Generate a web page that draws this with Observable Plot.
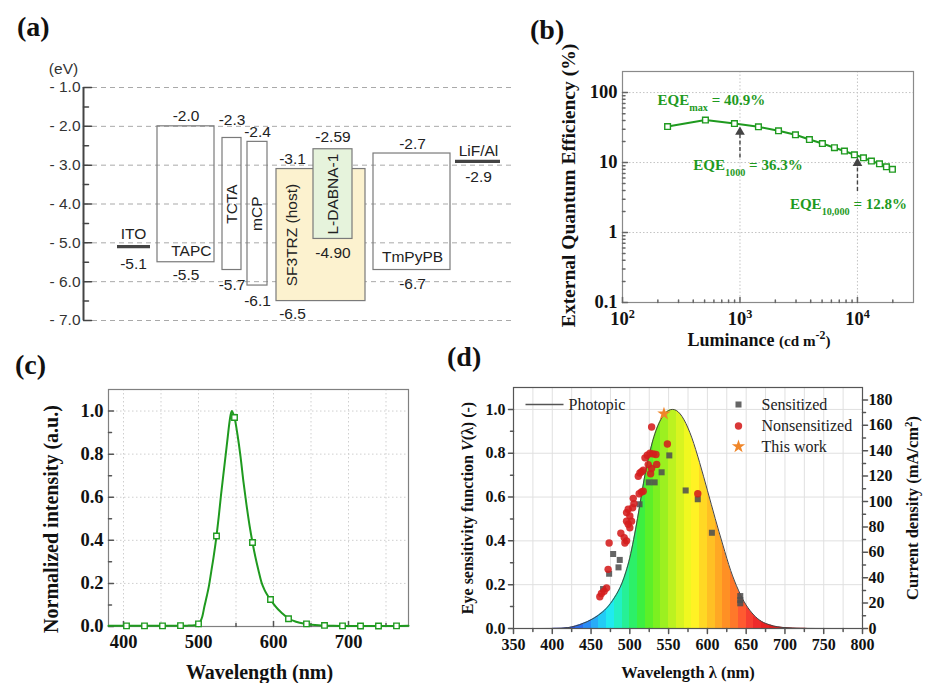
<!DOCTYPE html>
<html><head><meta charset="utf-8">
<script src="https://cdn.jsdelivr.net/npm/d3@7"></script>
<script src="https://cdn.jsdelivr.net/npm/@observablehq/plot@0.6"></script>
<style>
html,body{margin:0;padding:0;background:#fff;}
#fig{position:relative;width:940px;height:683px;overflow:hidden;background:#fff;}
.panel{position:absolute;}
.panel svg{display:block;max-width:none;overflow:visible;background:transparent;}
.plabel{position:absolute;font-family:"Liberation Serif","Times New Roman",serif;font-weight:bold;font-size:28px;line-height:28px;color:#111;}
</style></head>
<body><div id="fig"></div>
<script>
// ================= DATA =================
// (a) energy-level diagram
const layerNames   = ["ITO","TAPC","TCTA","mCP","SF3TRZ (host)","L-DABNA-1","TmPyPB","LiF/Al"];
const layerKind    = ["electrode","box","box","box","box","box","box","electrode"];
const lumoLevels   = [-5.1,-2.0,-2.3,-2.4,-3.1,-2.59,-2.7,-2.9];
const homoLevels   = [-5.1,-5.5,-5.7,-6.1,-6.5,-4.90,-5.7,-2.9];
const upperLabels  = ["ITO","-2.0","-2.3","-2.4","-3.1","-2.59","-2.7","LiF/Al"];
const lowerLabels  = ["-5.1","-5.5","-5.7","-6.1","-6.5","-4.90","-6.7","-2.9"];
const energyTicks  = [-1,-2,-3,-4,-5,-6,-7];
const energyMinor  = [-1.5,-2.5,-3.5,-4.5,-5.5,-6.5];

// (b) EQE vs luminance
const luminance = [242,508,897,1436,2128,2967,3900,5030,6370,7750,9420,11250,13150,15400,17650,19850];
const eqeValues = [32.7,40.5,36.1,32.4,28.4,24.9,21.3,18.7,16.3,14.6,12.9,11.7,10.5,9.6,8.7,8.0];
const eqeNoteText = ["EQE_{max} = 40.9%","EQE_{1000} = 36.3%","EQE_{10,000} = 12.8%"];
const eqeNoteLum  = [508,1000,10000];
const eqeNoteVal  = [40.9,36.3,12.8];
const arrowLum  = [1000,10000];
const arrowFrom = [11.8,3.92];
const arrowTo   = [30.1,10.8];
const lumTicks = [100,1000,10000];
const eqeTicks = [0.1,1,10,100];

// (c) EL spectrum
const specNm = [380,395,410,425,440,455,470,485,495,500,502,505,508,511,514,517,520,524,527,530,533,536,539,541,543,544.5,546,548,552,556,560,564,568,572,576,580,584,588,592,596,600,606,612,620,630,644,660,680,700,720,740,760,780];
const specI  = [0.004,0.003,0.003,0.003,0.003,0.003,0.003,0.004,0.006,0.012,0.02,0.045,0.095,0.14,0.19,0.255,0.32,0.42,0.51,0.61,0.70,0.79,0.88,0.94,0.985,1.0,0.99,0.97,0.89,0.79,0.67,0.565,0.47,0.39,0.32,0.26,0.205,0.17,0.145,0.125,0.105,0.08,0.06,0.037,0.022,0.012,0.006,0.003,0.002,0.002,0.002,0.002,0.003];
const markNm = [404,428,452,476,500,524,548,572,596,620,644,668,692,716,740,764];
const markI  = [0.003,0.003,0.003,0.004,0.012,0.42,0.97,0.39,0.125,0.036,0.012,0.005,0.003,0.002,0.002,0.003];

// (d) photopic curve + literature points
const photopicNm = [380,385,390,395,400,405,410,415,420,425,430,435,440,445,450,455,460,465,470,475,480,485,490,495,500,505,510,515,520,525,530,535,540,545,550,555,560,565,570,575,580,585,590,595,600,605,610,615,620,625,630,635,640,645,650,655,660,665,670,675,680,685,690,695,700,710,720,730,740,750,760,770,780];
const photopicV  = [0.00004,0.00006,0.00012,0.0002,0.0004,0.0006,0.0012,0.0022,0.004,0.0073,0.0116,0.0168,0.024,0.031,0.04,0.05,0.062,0.076,0.093,0.114,0.140,0.170,0.208,0.259,0.323,0.407,0.503,0.608,0.710,0.793,0.862,0.915,0.954,0.980,0.995,1.0,0.995,0.979,0.952,0.915,0.870,0.816,0.757,0.695,0.631,0.567,0.503,0.441,0.381,0.321,0.265,0.217,0.175,0.138,0.107,0.082,0.061,0.0446,0.032,0.0232,0.017,0.0119,0.0082,0.0057,0.0041,0.0021,0.00105,0.00052,0.00025,0.00012,0.00006,0.00003,0.000015];
const sensNm = [465.5,473.3,478.5,485.4,487.0,512.5,524.5,532.0,541.0,550.9,572.0,587.6,605.8,642.4,642.4,642.4];
const sensV  = [0.180,0.250,0.340,0.279,0.313,0.567,0.667,0.667,0.713,0.790,0.630,0.590,0.437,0.148,0.130,0.115];
const nonNm = [461.3,463.4,466.8,470.0,472.0,473.3,488.4,492.7,495.8,493.6,497.9,500.0,502.2,495.8,500.0,495.8,497.9,503.6,505.3,504.4,512.0,515.0,517.3,510.9,513.0,515.2,517.3,519.5,522.5,526.0,530.3,533.7,523.7,526.8,534.6,528.0,528.1,548.4,587.6];
const nonV  = [0.145,0.160,0.170,0.185,0.270,0.390,0.435,0.415,0.400,0.390,0.476,0.460,0.490,0.490,0.514,0.529,0.544,0.551,0.570,0.594,0.615,0.623,0.627,0.695,0.710,0.716,0.723,0.779,0.791,0.800,0.797,0.794,0.748,0.706,0.749,0.730,0.920,0.842,0.615];
const thisWorkNm = [544];
const thisWorkV  = [0.98];
const currentTicks = [0,20,40,60,80,100,120,140,160,180];
const currentPerV = 172.5;   // right-axis mA/cm2 per unit of V(λ)
const bandStart = [380,390,400,410,420,430,440,450,460,470,480,490,500,510,520,530,540,550,560,570,580,590,600,610,620,630,640,650,660,670,680,690,700,710,720,730,740,750,760,770];
const bandColor = ["#1a1aa0","#1c20b0","#2028c0","#2438d0","#2850e0","#2a6cee","#2a8cf6","#28acf8","#22ccf6","#20eaf0","#22f0c4","#26f096","#2cf068","#3cf040","#5cf028","#7cf020","#9cf020","#bcf220","#d8f420","#f0f820","#fff224","#ffd824","#ffc024","#ffa824","#ff9024","#ff782a","#ff5a30","#f63e30","#ee2a2a","#e82222","#e01c1c","#e01c1c","#e01c1c","#e01c1c","#e01c1c","#e01c1c","#e01c1c","#e01c1c","#e01c1c","#e01c1c"];

// ================= LAYOUT (not data) =================
const slotX1 = [3.4,7.4,13.9,16.4,19.3,23.0,29.0,37.2];
const slotX2 = [6.7,13.1,15.8,18.4,28.2,26.9,36.7,41.7];
const labelX = [5.0,10.25,14.85,17.4,20.9,24.95,32.9,39.5];
const upperDy = [-12.5,-10,-18,-10,-10.5,-12.5,-9.5,-10];
const lowerDy = [17,13,15.5,15.5,13.3,14,14.5,15.7];
const boxFill = [null,"none","none","none","#fcf2cf","#e6f3dc","none",null];
const namePlace = ["none","bottom-right","rot","rot","rot","rot","bottom","none"];
const noteOffset = [[6,-20],[8,42],[-9,49]];

const serif = '"Liberation Serif","Times New Roman",serif';
const sans = '"Liberation Sans",Arial,sans-serif';
const green = "#1f9a1f";
const fig = document.getElementById("fig");
const tickShape = {draw(ctx, l){ ctx.moveTo(0,0); ctx.lineTo(0,-l); }};
const tk = (values, opts) => Plot.vector(values, {anchor:"start", shape:tickShape, fill:"none", ...opts});
const lineSym = {draw(ctx){ ctx.moveTo(-19,0); ctx.lineTo(19,0); }};
const mid = {textAnchor:"middle", lineAnchor:"middle"};

function rich(svg){
  const ns = "http://www.w3.org/2000/svg";
  svg.querySelectorAll("text").forEach(t => {
    const s = t.textContent;
    if (!/[_^~*]\{/.test(s)) return;
    while (t.firstChild) t.removeChild(t.firstChild);
    const add = (txt, attrs) => { const ts = document.createElementNS(ns,"tspan"); ts.textContent = txt; for (const k in attrs) ts.setAttribute(k, attrs[k]); t.appendChild(ts); };
    const re = /([_^~*])\{([^}]*)\}/g; let last = 0, m;
    while ((m = re.exec(s))) {
      if (m.index > last) add(s.slice(last, m.index), {});
      const k = m[1];
      if (k === "_") add(m[2], {"font-size":"68%","baseline-shift":"sub"});
      else if (k === "^") add(m[2], {"font-size":"66%","baseline-shift":"super"});
      else if (k === "~") add(m[2], {"font-size":"84%"});
      else add(m[2], {"font-style":"italic"});
      last = re.lastIndex;
    }
    if (last < s.length) add(s.slice(last), {});
  });
}
function mount(svg, left, top, w, h){
  const div = document.createElement("div");
  div.className = "panel";
  Object.assign(div.style, {left:left+"px", top:top+"px", width:w+"px", height:h+"px"});
  div.appendChild(svg); fig.appendChild(div); rich(svg);
}
function panelLabel(txt, left, top){
  const d = document.createElement("div"); d.className = "plabel";
  d.style.left = left+"px"; d.style.top = top+"px"; d.textContent = txt; fig.appendChild(d);
}

// ================= (a) =================
const layers = layerNames.map((name,i)=>({name, kind:layerKind[i], lumo:lumoLevels[i], homo:homoLevels[i], up:upperLabels[i], low:lowerLabels[i], x1:slotX1[i], x2:slotX2[i], lx:labelX[i], fill:boxFill[i], place:namePlace[i], udy:upperDy[i], ldy:lowerDy[i]}));
const marksA = [
  Plot.ruleY(energyTicks, {stroke:"#a9a9a9", strokeDasharray:"5,4"}),
  ...layers.filter(d=>d.kind==="box").map(d => Plot.rect([d], {x1:"x1", x2:"x2", y1:"homo", y2:"lumo", fill:d.fill, stroke:"#7a7a7a", strokeWidth:1.2})),
  Plot.ruleY(layers.filter(d=>d.kind==="electrode"), {y:"lumo", x1:"x1", x2:"x2", stroke:"#444", strokeWidth:3.2}),
  ...layers.map(d => Plot.text([d], {x:"lx", y:"lumo", text:"up", dy:d.udy, fontSize:15.5, fill:"#222"})),
  ...layers.map(d => Plot.text([d], {x:"lx", y:"homo", text:"low", dy:d.ldy, fontSize:15.5, fill:"#222"})),
  Plot.text(layers.filter(d=>d.place==="rot"), {x:"lx", y:d=>(d.lumo+d.homo)/2, text:"name", rotate:-90, fontSize:15.5, fill:"#222"}),
  Plot.text(layers.filter(d=>d.place==="bottom-right"), {x:"x2", y:"homo", text:"name", textAnchor:"end", dx:-3, dy:-11, fontSize:15.5, fill:"#222"}),
  Plot.text(layers.filter(d=>d.place==="bottom"), {x:"lx", y:"homo", text:"name", dy:-12.5, fontSize:15.5, fill:"#222"}),
  Plot.ruleX([0], {y1:-7, y2:-1, stroke:"#444", strokeWidth:2}),
  tk(energyTicks, {y:d=>d, frameAnchor:"left", rotate:90, length:8, stroke:"#444", strokeWidth:1.5}),
  tk(energyMinor, {y:d=>d, frameAnchor:"left", rotate:90, length:5, stroke:"#444", strokeWidth:1.5}),
  Plot.axisY(energyTicks, {label:null, tickSize:0, tickPadding:3, tickFormat:d=>"- "+(-d).toFixed(1), fontSize:15.5, color:"#333"}),
  Plot.text(["(eV)"], {frameAnchor:"top-left", dx:-20, dy:-18, fontSize:15.5, fill:"#333", ...mid})
];
const plotA = Plot.plot({
  width:520, height:340, marginLeft:83, marginRight:5, marginTop:87, marginBottom:20,
  x:{domain:[0,43.2], axis:null}, y:{domain:[-7,-1], axis:null},
  style:{fontFamily:sans, background:"transparent", overflow:"visible", color:"#222"},
  marks: marksA
});
mount(plotA, 0, 0, 520, 340);

// ================= (b) =================
const eqeTable = luminance.map((l,i)=>({lum:l, eqe:eqeValues[i]}));
const notes = eqeNoteText.map((t,i)=>({t, lum:eqeNoteLum[i], v:eqeNoteVal[i]}));
const arrows = arrowLum.map((l,i)=>({lum:l, from:arrowFrom[i], to:arrowTo[i]}));
const lumMinor = [200,300,400,500,600,700,800,900,2000,3000,4000,5000,6000,7000,8000,9000,20000];
const eqeMinor = [0.2,0.3,0.4,0.5,0.6,0.7,0.8,0.9,2,3,4,5,6,7,8,9,20,30,40,50,60,70,80,90];
const plotB = Plot.plot({
  width:470, height:350, marginLeft:152, marginRight:27, marginTop:71, marginBottom:48,
  x:{type:"log", domain:[100,30000], axis:null}, y:{type:"log", domain:[0.1,200], axis:null},
  style:{fontFamily:serif, fontWeight:"bold", background:"transparent", overflow:"visible", color:"#111"},
  marks:[
    Plot.ruleX([1000,10000], {stroke:"#c4c4c4", strokeDasharray:"1.5,2"}),
    Plot.ruleY([1,10,100], {stroke:"#c4c4c4", strokeDasharray:"1.5,2"}),
    Plot.frame({stroke:"#8a8a8a", strokeWidth:1.2}),
    tk(lumTicks, {x:d=>d, frameAnchor:"bottom", rotate:0, length:5, stroke:"#666"}),
    tk(lumMinor, {x:d=>d, frameAnchor:"bottom", rotate:0, length:2.5, stroke:"#666"}),
    tk(eqeTicks, {y:d=>d, frameAnchor:"left", rotate:90, length:5, stroke:"#666"}),
    tk(eqeMinor, {y:d=>d, frameAnchor:"left", rotate:90, length:2.5, stroke:"#666"}),
    Plot.axisX(lumTicks, {label:null, tickSize:0, tickPadding:9, tickFormat:d=>`10^{${Math.round(Math.log10(d))}}`, fontSize:18.5}),
    Plot.axisY(eqeTicks, {label:null, tickSize:0, tickPadding:5, tickFormat:d=>String(d), fontSize:18.5}),
    Plot.line(eqeTable, {x:"lum", y:"eqe", stroke:green, strokeWidth:2}),
    Plot.dot(eqeTable, {x:"lum", y:"eqe", symbol:"square", r:3.2, fill:"white", stroke:green, strokeWidth:1.4}),
    Plot.link(arrows, {x1:"lum", x2:"lum", y1:"from", y2:"to", stroke:"#444", strokeWidth:1.4, strokeDasharray:"4,2.5"}),
    Plot.dot(arrows, {x:"lum", y:"to", symbol:"triangle", r:3.6, fill:"#444", dy:3}),
    ...notes.map((n,i)=>Plot.text([n], {x:"lum", y:"v", text:"t", dx:noteOffset[i][0], dy:noteOffset[i][1], fill:green, fontSize:15})),
    Plot.text(["External Quantum Efficiency (%)"], {frameAnchor:"left", rotate:-90, dx:-53.5, dy:-1.5, fontSize:19.5, ...mid}),
    Plot.text(["Luminance ~{(cd m}^{-2}~{)}"], {frameAnchor:"bottom", dx:-9, dy:38, fontSize:18, ...mid})
  ]
});
mount(plotB, 470, 0, 470, 350);

// ================= (c) =================
const spec = specNm.map((x,i)=>({nm:x, v:specI[i]}));
const specMarks = markNm.map((x,i)=>({nm:x, v:markI[i]}));
const plotC = Plot.plot({
  width:460, height:343, marginLeft:108, marginRight:52, marginTop:49, marginBottom:57,
  x:{domain:[380,780], axis:null}, y:{domain:[0,1.1], axis:null},
  style:{fontFamily:serif, fontWeight:"bold", background:"transparent", overflow:"visible", color:"#111"},
  marks:[
    Plot.ruleX([400,450,500,550,600,650,700,750], {stroke:"#cfcfcf", strokeDasharray:"1.5,2.5"}),
    Plot.ruleY([0.2,0.4,0.6,0.8,1.0], {stroke:"#cfcfcf", strokeDasharray:"1.5,2.5"}),
    Plot.frame({stroke:"#808080", strokeWidth:1.2}),
    tk([400,500,600,700], {x:d=>d, frameAnchor:"bottom", rotate:0, length:5, stroke:"#555"}),
    tk([450,550,650,750], {x:d=>d, frameAnchor:"bottom", rotate:0, length:3, stroke:"#555"}),
    tk([0,0.2,0.4,0.6,0.8,1.0], {y:d=>d, frameAnchor:"left", rotate:90, length:5, stroke:"#555"}),
    tk([0.1,0.3,0.5,0.7,0.9], {y:d=>d, frameAnchor:"left", rotate:90, length:3, stroke:"#555"}),
    Plot.line(spec, {x:"nm", y:"v", stroke:green, strokeWidth:2, curve:"monotone-x"}),
    Plot.dot(specMarks, {x:"nm", y:"v", symbol:"square", r:3.1, fill:"white", stroke:green, strokeWidth:1.4}),
    Plot.axisX([400,500,600,700], {label:null, tickSize:0, tickPadding:8, fontSize:18.5}),
    Plot.axisY([0,0.2,0.4,0.6,0.8,1.0], {label:null, tickSize:0, tickPadding:5, tickFormat:d=>d.toFixed(1), fontSize:18.5}),
    Plot.text(["Normalized intensity (a.u.)"], {frameAnchor:"left", rotate:-90, dx:-57, dy:11, fontSize:20, ...mid}),
    Plot.text(["Wavelength (nm)"], {frameAnchor:"bottom", dx:1, dy:46, fontSize:20, ...mid})
  ]
});
mount(plotC, 0, 340, 460, 343);

// ================= (d) =================
const photopic = photopicNm.map((x,i)=>({nm:x, v:photopicV[i]}));
const sens = sensNm.map((x,i)=>({nm:x, v:sensV[i]}));
const non = nonNm.map((x,i)=>({nm:x, v:nonV[i]}));
const star = thisWorkNm.map((x,i)=>({nm:x, v:thisWorkV[i]}));
const curTickV = currentTicks.map(j=>j/currentPerV);
const curMinorV = [10,30,50,70,90,110,130,150,170].map(j=>j/currentPerV);
const legendStyle = {fontSize:16, fontWeight:"normal", fill:"#222", textAnchor:"start", lineAnchor:"middle"};
const plotD = Plot.plot({
  width:480, height:343, marginLeft:53, marginRight:78, marginTop:47, marginBottom:55,
  x:{domain:[350,800], axis:null}, y:{domain:[0,1.1], axis:null},
  style:{fontFamily:serif, fontWeight:"bold", background:"transparent", overflow:"visible", color:"#111"},
  marks:[
    Plot.ruleX(d3.range(375,800,25), {stroke:"#e0e0e0"}),
    Plot.ruleY([0.2,0.4,0.6,0.8,1.0], {stroke:"#e0e0e0"}),
    Plot.areaY(photopic, {x:"nm", y:"v", fill:"url(#specGrad)", curve:"monotone-x"}),
    Plot.line(photopic, {x:"nm", y:"v", stroke:"#444", strokeWidth:1, curve:"monotone-x"}),
    Plot.dot(sens, {x:"nm", y:"v", symbol:"square", r:3.4, fill:"#505050", fillOpacity:0.88}),
    Plot.dot(non, {x:"nm", y:"v", r:3.7, fill:"#d41c1c", fillOpacity:0.88}),
    Plot.dot(star, {x:"nm", y:"v", symbol:"star", r:4.2, fill:"#f0862a"}),
    Plot.frame({stroke:"#555", strokeWidth:1.2}),
    tk([350,400,450,500,550,600,650,700,750,800], {x:d=>d, frameAnchor:"bottom", rotate:180, length:5, stroke:"#555"}),
    tk(d3.range(375,800,50), {x:d=>d, frameAnchor:"bottom", rotate:180, length:3, stroke:"#555"}),
    tk([0,0.2,0.4,0.6,0.8,1.0], {y:d=>d, frameAnchor:"left", rotate:-90, length:5, stroke:"#555"}),
    tk([0.1,0.3,0.5,0.7,0.9], {y:d=>d, frameAnchor:"left", rotate:-90, length:3, stroke:"#555"}),
    tk(curTickV, {y:d=>d, frameAnchor:"right", rotate:90, length:5, stroke:"#555"}),
    tk(curMinorV, {y:d=>d, frameAnchor:"right", rotate:90, length:3, stroke:"#555"}),
    Plot.axisX([350,400,450,500,550,600,650,700,750,800], {label:null, tickSize:0, tickPadding:10, fontSize:16}),
    Plot.axisY([0,0.2,0.4,0.6,0.8,1.0], {label:null, tickSize:0, tickPadding:8, tickFormat:d=>d.toFixed(1), fontSize:16}),
    Plot.axisY(curTickV, {label:null, anchor:"right", tickSize:0, tickPadding:6, tickFormat:v=>String(Math.round(v*currentPerV)), fontSize:16}),
    Plot.dot([0], {frameAnchor:"top-left", dx:31, dy:17, symbol:lineSym, stroke:"#555", strokeWidth:1.5}),
    Plot.text(["Photopic"], {frameAnchor:"top-left", dx:55, dy:17, ...legendStyle}),
    Plot.dot([0], {frameAnchor:"top-left", dx:225, dy:17, symbol:"square", r:3.4, fill:"#505050", fillOpacity:0.88}),
    Plot.dot([0], {frameAnchor:"top-left", dx:225, dy:38.5, r:3.7, fill:"#d41c1c", fillOpacity:0.88}),
    Plot.dot([0], {frameAnchor:"top-left", dx:225, dy:59, symbol:"star", r:4.2, fill:"#f0862a"}),
    Plot.text(["Sensitized"], {frameAnchor:"top-left", dx:248, dy:17, ...legendStyle}),
    Plot.text(["Nonsensitized"], {frameAnchor:"top-left", dx:248, dy:38.5, ...legendStyle}),
    Plot.text(["This work"], {frameAnchor:"top-left", dx:248, dy:59, ...legendStyle}),
    Plot.text(["Eye sensitivity function *{V}(λ) (-)"], {frameAnchor:"left", rotate:-90, dx:-46, fontSize:16, ...mid}),
    Plot.text(["Current density (mA/cm^{2})"], {frameAnchor:"right", rotate:-90, dx:50, fontSize:16.5, ...mid}),
    Plot.text(["Wavelength λ (nm)"], {frameAnchor:"bottom", dy:44, fontSize:16.5, ...mid})
  ]
});
{
  const xs = plotD.scale("x");
  const x0 = xs.apply(380), x1 = xs.apply(780);
  const defs = d3.select(plotD).insert("defs", ":first-child");
  const g = defs.append("linearGradient").attr("id","specGrad").attr("gradientUnits","userSpaceOnUse")
    .attr("x1", x0).attr("x2", x1).attr("y1", 0).attr("y2", 0);
  bandStart.forEach((s,i)=>{
    const o0 = (s-380)/400, o1 = Math.min(1,(s+10-380)/400);
    g.append("stop").attr("offset", o0).attr("stop-color", bandColor[i]);
    g.append("stop").attr("offset", o1).attr("stop-color", bandColor[i]);
  });
}
mount(plotD, 460, 340, 480, 343);

panelLabel("(a)", 17, 13);
panelLabel("(b)", 530, 16);
panelLabel("(c)", 15, 351);
panelLabel("(d)", 447, 343);
</script></body></html>
